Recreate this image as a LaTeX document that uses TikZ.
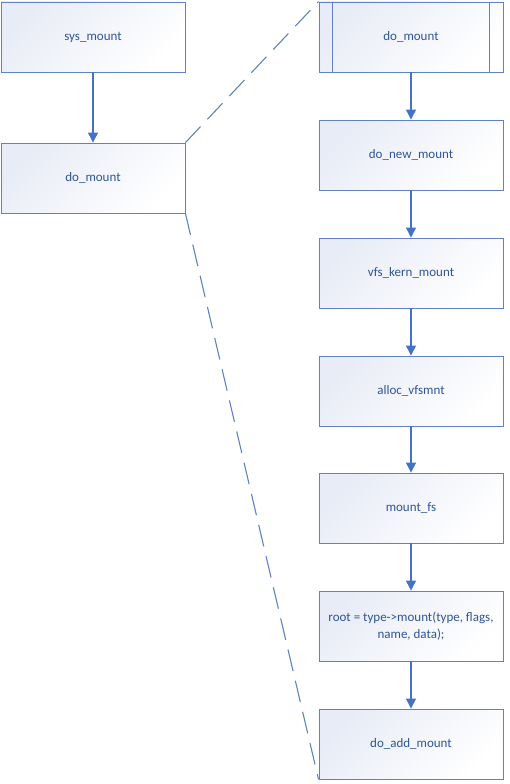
\documentclass[tikz,border=0pt]{standalone}
\usepackage{fontspec}
\setmainfont{Carlito}
\usepackage{xcolor}
\usetikzlibrary{arrows.meta, positioning, shapes}

\definecolor{boxline}{RGB}{96,130,190}
\definecolor{boxtext}{RGB}{47,85,151}
\definecolor{flowline}{RGB}{68,114,196}
\definecolor{boxshade}{RGB}{232,236,246}

\tikzset{
    fnbox/.style={draw=boxline, line width=0.9pt, minimum width=184pt, minimum height=70pt,
        top color=boxshade, bottom color=white, shading angle=45,
        text=boxtext, font=\fontsize{13}{17}\selectfont, align=center},
    flow/.style={draw=flowline, line width=1.2pt, -{Triangle[width=10pt,length=10pt]}},
    zoomline/.style={draw=boxline, line width=1.1pt, dash pattern=on 22pt off 10pt}
}

\begin{document}
\begin{tikzpicture}[x=1pt, y=-1pt]
    \useasboundingbox (0,0) rectangle (509,784);

    % Stanga
    \node[fnbox] (sysmount) at (93, 37) {sys\_mount};
    \node[fnbox] (lmount) at (93, 178) {do\_mount};

    % Dreapta
    \node[fnbox] (rmount) at (411, 37) {do\_mount};
    \draw[boxline, line width=0.9pt] ([xshift=14pt]rmount.north west) -- ([xshift=14pt]rmount.south west);
    \draw[boxline, line width=0.9pt] ([xshift=-14pt]rmount.north east) -- ([xshift=-14pt]rmount.south east);
    \node[fnbox] (newmount) at (411, 155) {do\_new\_mount};
    \node[fnbox] (kernmount) at (411, 273) {vfs\_kern\_mount};
    \node[fnbox] (allocmnt) at (411, 391) {alloc\_vfsmnt};
    \node[fnbox] (mountfs) at (411, 508) {mount\_fs};
    \node[fnbox] (rootmount) at (411, 626) {root = type->mount(type, flags,\\ name, data);};
    \node[fnbox] (addmount) at (411, 744) {do\_add\_mount};

    % Sageti
    \draw[flow] (sysmount) -- (lmount);
    \draw[flow] (rmount) -- (newmount);
    \draw[flow] (newmount) -- (kernmount);
    \draw[flow] (kernmount) -- (allocmnt);
    \draw[flow] (allocmnt) -- (mountfs);
    \draw[flow] (mountfs) -- (rootmount);
    \draw[flow] (rootmount) -- (addmount);

    % Linii punctate
    \draw[zoomline] (lmount.north east) -- (rmount.north west);
    \draw[zoomline] (lmount.south east) -- (addmount.south west);
\end{tikzpicture}
\end{document}
